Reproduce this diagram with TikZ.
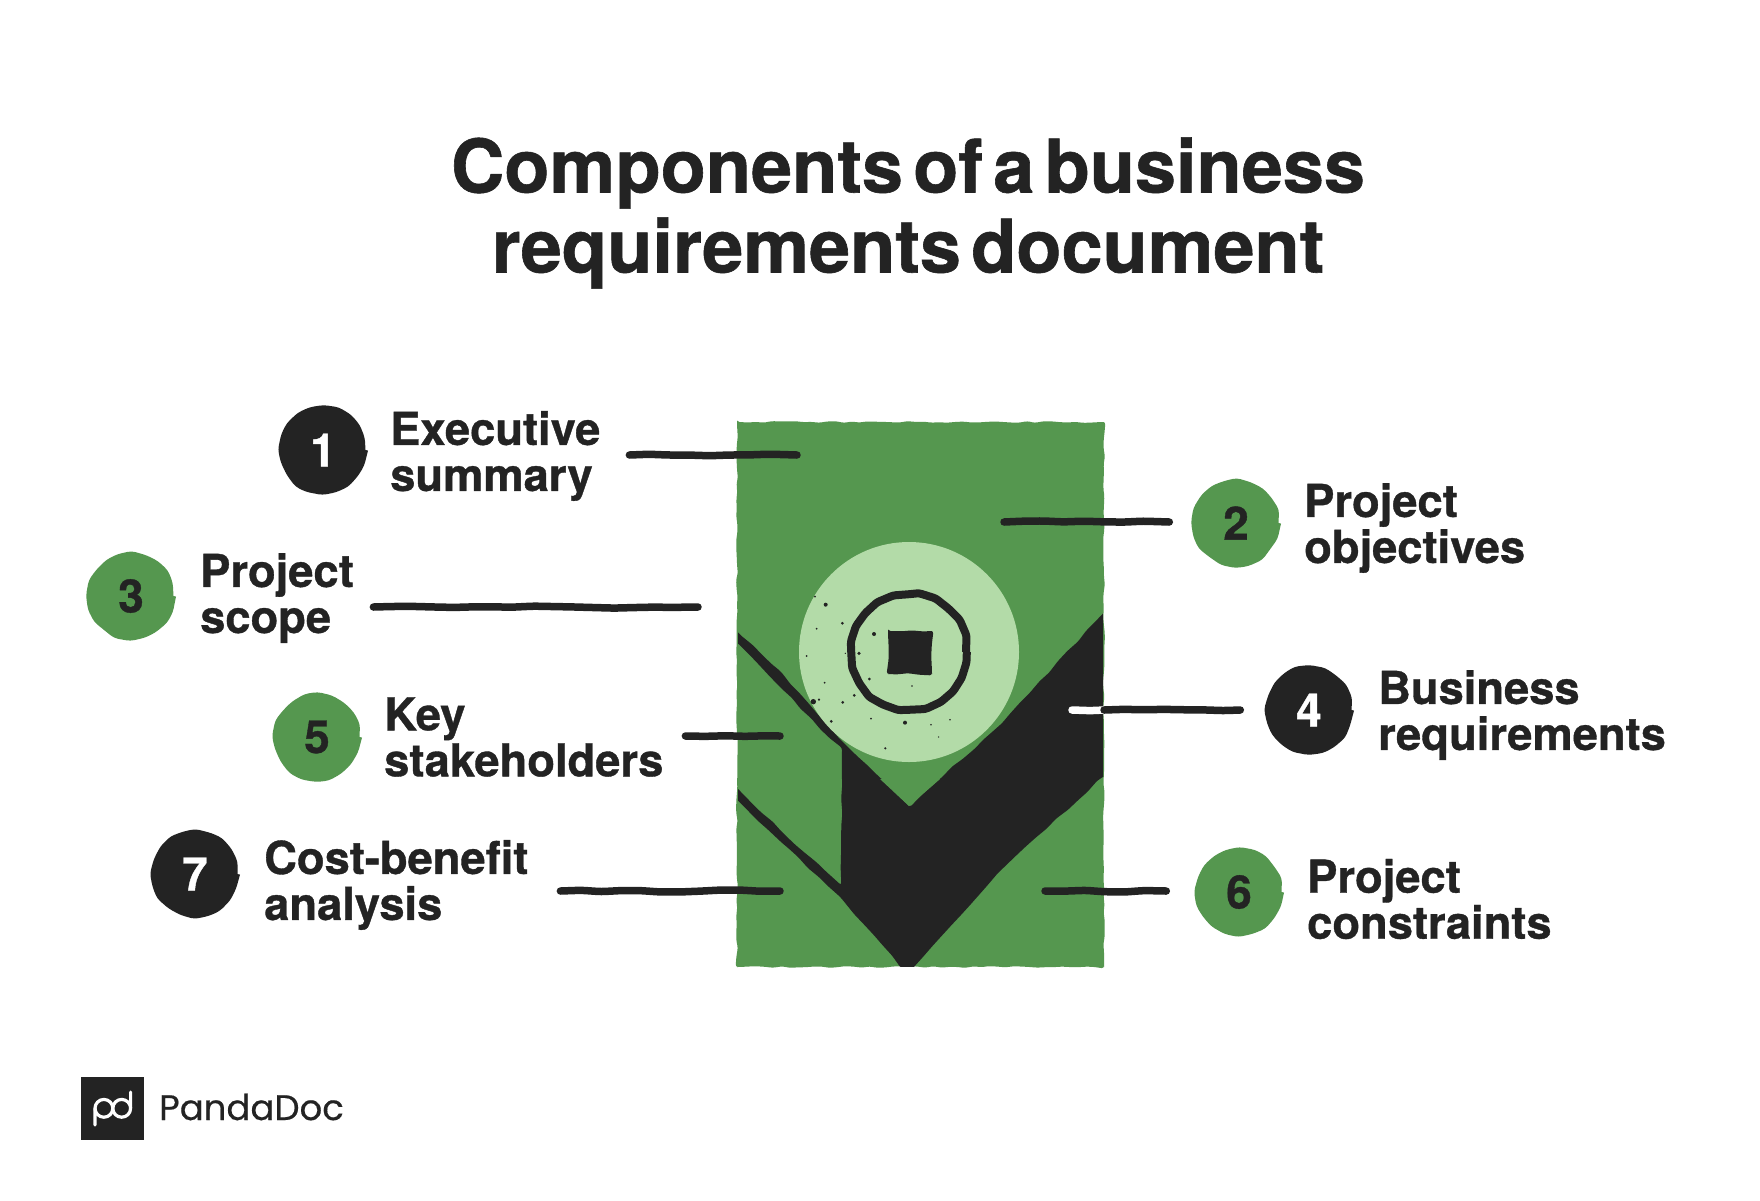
\documentclass[tikz,border=0pt]{standalone}
\usepackage{fontspec}
\setmainfont{TeX Gyre Heros}[WordSpace=0.5,BoldFeatures={FakeBold=0.8}]
\newfontfamily\logofont[FakeBold=0.4]{Poppins}
\usetikzlibrary{decorations.pathmorphing,calc}
\definecolor{ink}{HTML}{232323}
\definecolor{leaf}{HTML}{55974F}
\definecolor{pale}{HTML}{B3DBA8}
\tikzset{
  wob/.style={decoration={random steps,segment length=#1,amplitude=0.9},decorate,rounded corners=2.5pt},
  conn/.style={ink,line width=7.5pt,line cap=round,line join=round,decoration={random steps,segment length=20,amplitude=1.1},decorate,rounded corners=4pt},
  lab/.style={anchor=west,inner sep=0pt,align=left,text=ink,font=\fontsize{45.3}{46}\selectfont\bfseries},
  blob/.style={circle,minimum size=85pt,inner sep=0pt,font=\fontsize{46}{46}\selectfont\bfseries,decoration={random steps,segment length=13,amplitude=1.2},decorate,rounded corners=4pt},
  blobk/.style={blob,fill=ink,text=white},
  blobg/.style={blob,fill=leaf,text=ink},
}
\begin{document}
\begin{tikzpicture}[x=1pt,y=-1pt]
\pgfmathsetseed{42}
\useasboundingbox (0,0) rectangle (1760,1200);
\fill[white] (0,0) rectangle (1760,1200);

\node[inner sep=0pt,align=center,text=ink,font=\fontsize{73.9}{80}\selectfont\bfseries] (title) at (908,213)
  {Components of a business\\requirements document};

% document
\fill[leaf,wob=8] (737,422) -- (1104,422) -- (1104,967) -- (737,967) -- cycle;
\begin{scope}
\clip (738,423) rectangle (1103,966);
\fill[ink,wob=14] (730,624) -- (780,671) -- (838,737) -- (855,754) -- (909,806) -- (1000,725) -- (1110,606)
  -- (1110,770) -- (1000,871) -- (913,968) -- (903,968) -- (841,898) -- (780,841) -- (730,793) -- (730,781)
  -- (783,833) -- (841,885) -- (842,750) -- (780,687) -- (730,636) -- cycle;
\end{scope}
\fill[leaf] (909,806) -- (880,779) -- (940,779) -- cycle;
\fill[pale] (909,652) circle (110pt);
\draw[ink,line width=8pt,wob=16] (909,652) circle (57pt);
\fill[ink,wob=11] (888,631) -- (932,631) -- (932,674) -- (888,674) -- cycle;
\foreach \a/\b/\r in {137/224/2,105/200/1,187/280/1.5,110/296/1,282/312/2,80/378/1,196/370/.7,237/370/1.8,134/458/1,268/447/1.5,396/468/.8,223/496/1.5,100/515/2.7,117/509/1.2,188/517/1.5,154/574/1.5,273/566/1,375/578/2,453/584/.9,510/569/.9,476/621/.7,316/655/1.2}
  \fill[ink] ({780+\a/3},{530+\b/3}) circle (\r pt);

% numbered blobs
\node[blobk] (n1) at (323,450) {1};
\node[blobg] (n2) at (1236,523) {2};
\node[blobg] (n3) at (131,596) {3};
\node[blobk] (n4) at (1309,710) {4};
\node[blobg] (n5) at (317,737) {5};
\node[blobg] (n6) at (1239,892) {6};
\node[blobk] (n7) at (195,874) {7};

% labels
\node[lab,text width=239pt] (l1) at (390,456) {Executive\\summary};
\node[lab] (l2) at (1304,528) {Project\\objectives};
\node[lab,text width=173pt] (l3) at (200,598) {Project\\scope};
\node[lab] (l4) at (1378,715) {Business\\requirements};
\node[lab,text width=301pt] (l5) at (384,737) {Key\\stakeholders};
\node[lab] (l6) at (1307,899) {Project\\constraints};
\node[lab,text width=296pt] (l7) at (264,885) {Cost-benefit\\analysis};

% connector free ends
\coordinate (t1) at (797,455);
\coordinate (t2) at (1004,522);
\coordinate (t3) at (698,607);
\coordinate (t4) at (1072,710);
\coordinate (e4) at (1104,710);
\coordinate (t5) at (780,736);
\coordinate (t6) at (1045,891);
\coordinate (t7) at (780,891);

\draw[conn] (l1.east |- t1) -- (t1);
\draw[conn] (t2) -- ($(t2 -| n2.west)+(-24,0)$);
\draw[conn] (l3.east |- t3) -- (t3);
\draw[conn,white] (t4) -- (e4);
\draw[conn] (e4) -- ($(e4 -| n4.west)+(-26,0)$);
\draw[conn] (l5.east |- t5) -- (t5);
\draw[conn] (t6) -- ($(t6 -| n6.west)+(-30,0)$);
\draw[conn] (l7.east |- t7) -- (t7);

% logo
\node[fill=ink,minimum size=63pt,inner sep=0pt,anchor=north west] (logo) at (81,1077) {};
\draw[white,line width=3.2pt,line cap=round,line join=round]
  (95,1125) -- (95,1108.3) arc[start angle=180,end angle=0,radius=8.9pt] arc[start angle=180,end angle=360,radius=8.9pt] -- (130.6,1092);
\draw[white,line width=3.2pt]
  (95,1108.3) arc[start angle=180,end angle=360,radius=8.9pt] arc[start angle=180,end angle=0,radius=8.9pt];
\node[anchor=base west,inner sep=0pt,text=ink,font=\fontsize{35.5}{36}\selectfont\logofont] (brand) at (159,1120) {PandaDoc};
\end{tikzpicture}
\end{document}
